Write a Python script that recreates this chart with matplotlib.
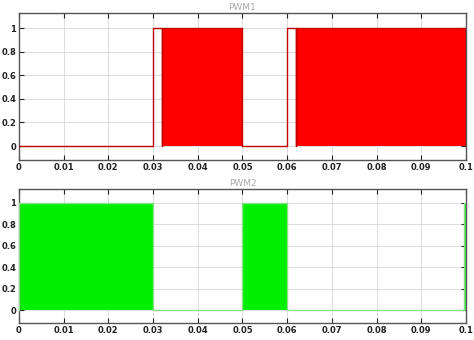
import matplotlib.pyplot as plt

# segment boundaries (s) and state: 0 = low, 1 = high, 'pwm' = switching
pwm1_edges = [0.0, 0.03, 0.032, 0.05, 0.06, 0.062, 0.1]
pwm1_state = [0, 1, 'pwm', 0, 1, 'pwm']

pwm2_edges = [0.0, 0.03, 0.05, 0.06, 0.0995, 0.1]
pwm2_state = ['pwm', 0, 'pwm', 0, 'pwm']

xticks = [0, 0.01, 0.02, 0.03, 0.04, 0.05, 0.06, 0.07, 0.08, 0.09, 0.1]
xticklabels = ['0', '0.01', '0.02', '0.03', '0.04', '0.05', '0.06', '0.07', '0.08', '0.09', '0.1']
yticks = [0, 0.2, 0.4, 0.6, 0.8, 1]
yticklabels = ['0', '0.2', '0.4', '0.6', '0.8', '1']


def draw(ax, edges, states, fill_col, line_col, title):
    xs, ys = [], []
    for i, st in enumerate(states):
        a, b = edges[i], edges[i + 1]
        if st == 'pwm':
            ax.fill_between([a, b], 0, 1, color=fill_col, lw=0, zorder=2)
            xs += [a, a, b, b]
            ys += [0, 1, 1, 0]
        else:
            xs += [a, b]
            ys += [st, st]
    ax.plot(xs, ys, color=line_col, lw=1, zorder=3)
    ax.set_xlim(0, 0.1)
    ax.set_ylim(-0.12, 1.13)
    ax.set_xticks(xticks)
    ax.set_xticklabels(xticklabels)
    ax.set_yticks(yticks)
    ax.set_yticklabels(yticklabels)
    ax.grid(True, color='#dcdcdc', lw=0.7)
    ax.set_axisbelow(True)
    ax.tick_params(direction='in', length=3.5, top=True, right=True,
                   labelsize=6, colors='#222222', pad=2)
    for lab in ax.get_xticklabels() + ax.get_yticklabels():
        lab.set_fontweight('bold')
    for sp in ax.spines.values():
        sp.set_color('#555555')
        sp.set_linewidth(1)
    ax.set_title(title, fontsize=6.5, color='#aaaaaa', pad=2)


fig = plt.figure(figsize=(4.74, 3.4), dpi=100)
ax1 = fig.add_axes([0.04, 0.529, 0.943, 0.433])
ax2 = fig.add_axes([0.04, 0.05, 0.943, 0.395])

draw(ax1, pwm1_edges, pwm1_state, '#ff0000', '#c00000', 'PWM1')
draw(ax2, pwm2_edges, pwm2_state, '#00ee00', '#88e088', 'PWM2')

fig.savefig('out.png', dpi=100)
